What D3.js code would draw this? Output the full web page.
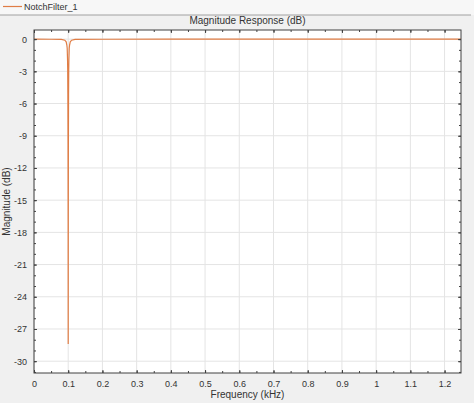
<!DOCTYPE html>
<html>
<head>
<meta charset="utf-8">
<script src="https://cdn.jsdelivr.net/npm/d3@7"></script>
<style>
  body { margin: 0; background: #f0f0f0; }
  text { font-family: "Liberation Sans", Arial, sans-serif; fill: #333; }
</style>
</head>
<body>
<div id="chart"></div>
<script>
// Data
var freqKHz = [0, 0.05, 0.08, 0.09, 0.094, 0.096, 0.097, 0.098, 0.0985, 0.099, 0.0995, 0.0998, 0.1,
               0.1002, 0.1005, 0.101, 0.1015, 0.102, 0.103, 0.104, 0.106, 0.11, 0.12, 0.2, 0.4, 1.248];
var magDB   = [0, -0.01, -0.03, -0.1, -0.25, -0.55, -0.85, -1.9, -2.8, -5.1, -10, -17, -28.4,
               -17, -10, -5.1, -2.8, -1.9, -0.85, -0.55, -0.25, -0.1, -0.03, -0.01, 0, 0];
var xTicks = [0, 0.1, 0.2, 0.3, 0.4, 0.5, 0.6, 0.7, 0.8, 0.9, 1, 1.1, 1.2];
var yTicks = [0, -3, -6, -9, -12, -15, -18, -21, -24, -27, -30];
var seriesName = "NotchFilter_1";

var svgW = 474, svgH = 403;
var margin = { top: 30, right: 13, bottom: 30, left: 34 };
var w = svgW - margin.left - margin.right;
var h = svgH - margin.top - margin.bottom;
var lineColor = "#e07d45";

var svg = d3.select("#chart").append("svg")
  .attr("width", svgW)
  .attr("height", svgH);

// legend strip at top
svg.append("rect").attr("x", 0).attr("y", 0).attr("width", svgW).attr("height", 15).attr("fill", "#f7f7f7");
svg.append("line").attr("x1", 0).attr("x2", svgW - 3).attr("y1", 15).attr("y2", 15)
  .attr("stroke", "#a0a0a0").attr("stroke-width", 1);
svg.append("line").attr("x1", 3).attr("x2", 22).attr("y1", 6.5).attr("y2", 6.5)
  .attr("stroke", lineColor).attr("stroke-width", 1.2);
svg.append("text").attr("x", 24).attr("y", 10).attr("font-size", 9).text(seriesName);

var g = svg.append("g")
  .attr("transform", "translate(" + margin.left + "," + margin.top + ")");

// Scales
var x = d3.scaleLinear().domain([0, 1.248]).range([0, w]);
var y = d3.scaleLinear().domain([-31.1, 0.85]).range([h, 0]);

g.append("rect").attr("width", w).attr("height", h).attr("fill", "#fff");

// grid
g.selectAll(".gx").data(xTicks).enter().append("line")
  .attr("x1", d => x(d)).attr("x2", d => x(d)).attr("y1", 0).attr("y2", h)
  .attr("stroke", "#e4e4e4");
g.selectAll(".gy").data(yTicks).enter().append("line")
  .attr("y1", d => y(d)).attr("y2", d => y(d)).attr("x1", 0).attr("x2", w)
  .attr("stroke", "#e4e4e4");

// curve
var line = d3.line().x(d => x(d[0])).y(d => y(d[1]));
g.append("path")
  .datum(d3.zip(freqKHz, magDB))
  .attr("d", line)
  .attr("fill", "none")
  .attr("stroke", lineColor)
  .attr("stroke-width", 1.2);

// axes, ticks pointing inward
var xMinor = d3.range(0, 1.25, 0.05);
var yMinor = d3.range(-31, 1, 1);
var fmt = d => String(d);

g.append("g").attr("transform", "translate(0," + h + ")")
  .call(d3.axisBottom(x).tickValues(xTicks).tickFormat(fmt).tickSizeInner(-3).tickSizeOuter(0).tickPadding(8));
g.append("g").call(d3.axisLeft(y).tickValues(yTicks).tickFormat(fmt).tickSizeInner(-3).tickSizeOuter(0).tickPadding(7));
g.append("g").call(d3.axisTop(x).tickValues(xTicks).tickFormat("").tickSizeInner(-3).tickSizeOuter(0));
g.append("g").attr("transform", "translate(" + w + ",0)")
  .call(d3.axisRight(y).tickValues(yTicks).tickFormat("").tickSizeInner(-3).tickSizeOuter(0));

// minor ticks
g.append("g").attr("transform", "translate(0," + h + ")")
  .call(d3.axisBottom(x).tickValues(xMinor).tickFormat("").tickSizeInner(-2).tickSizeOuter(0));
g.append("g").call(d3.axisTop(x).tickValues(xMinor).tickFormat("").tickSizeInner(-2).tickSizeOuter(0));
g.append("g").call(d3.axisLeft(y).tickValues(yMinor).tickFormat("").tickSizeInner(-2).tickSizeOuter(0));
g.append("g").attr("transform", "translate(" + w + ",0)")
  .call(d3.axisRight(y).tickValues(yMinor).tickFormat("").tickSizeInner(-2).tickSizeOuter(0));

g.selectAll(".domain").attr("stroke", "none");
g.selectAll(".tick line").attr("stroke", "#404040");
g.selectAll(".tick text").attr("font-size", 9).attr("font-family", "Liberation Sans, Arial, sans-serif").attr("fill", "#333");

// frame
g.append("rect").attr("width", w).attr("height", h)
  .attr("fill", "none").attr("stroke", "#404040").attr("stroke-width", 1);

// labels
g.append("text").attr("x", w / 2).attr("y", -6).attr("text-anchor", "middle")
  .attr("font-size", 10).text("Magnitude Response (dB)");
g.append("text").attr("x", w / 2).attr("y", h + 25).attr("text-anchor", "middle")
  .attr("font-size", 10).text("Frequency (kHz)");
g.append("text").attr("transform", "rotate(-90)")
  .attr("x", -h / 2).attr("y", -24).attr("text-anchor", "middle")
  .attr("font-size", 10).text("Magnitude (dB)");
</script>
</body>
</html>
